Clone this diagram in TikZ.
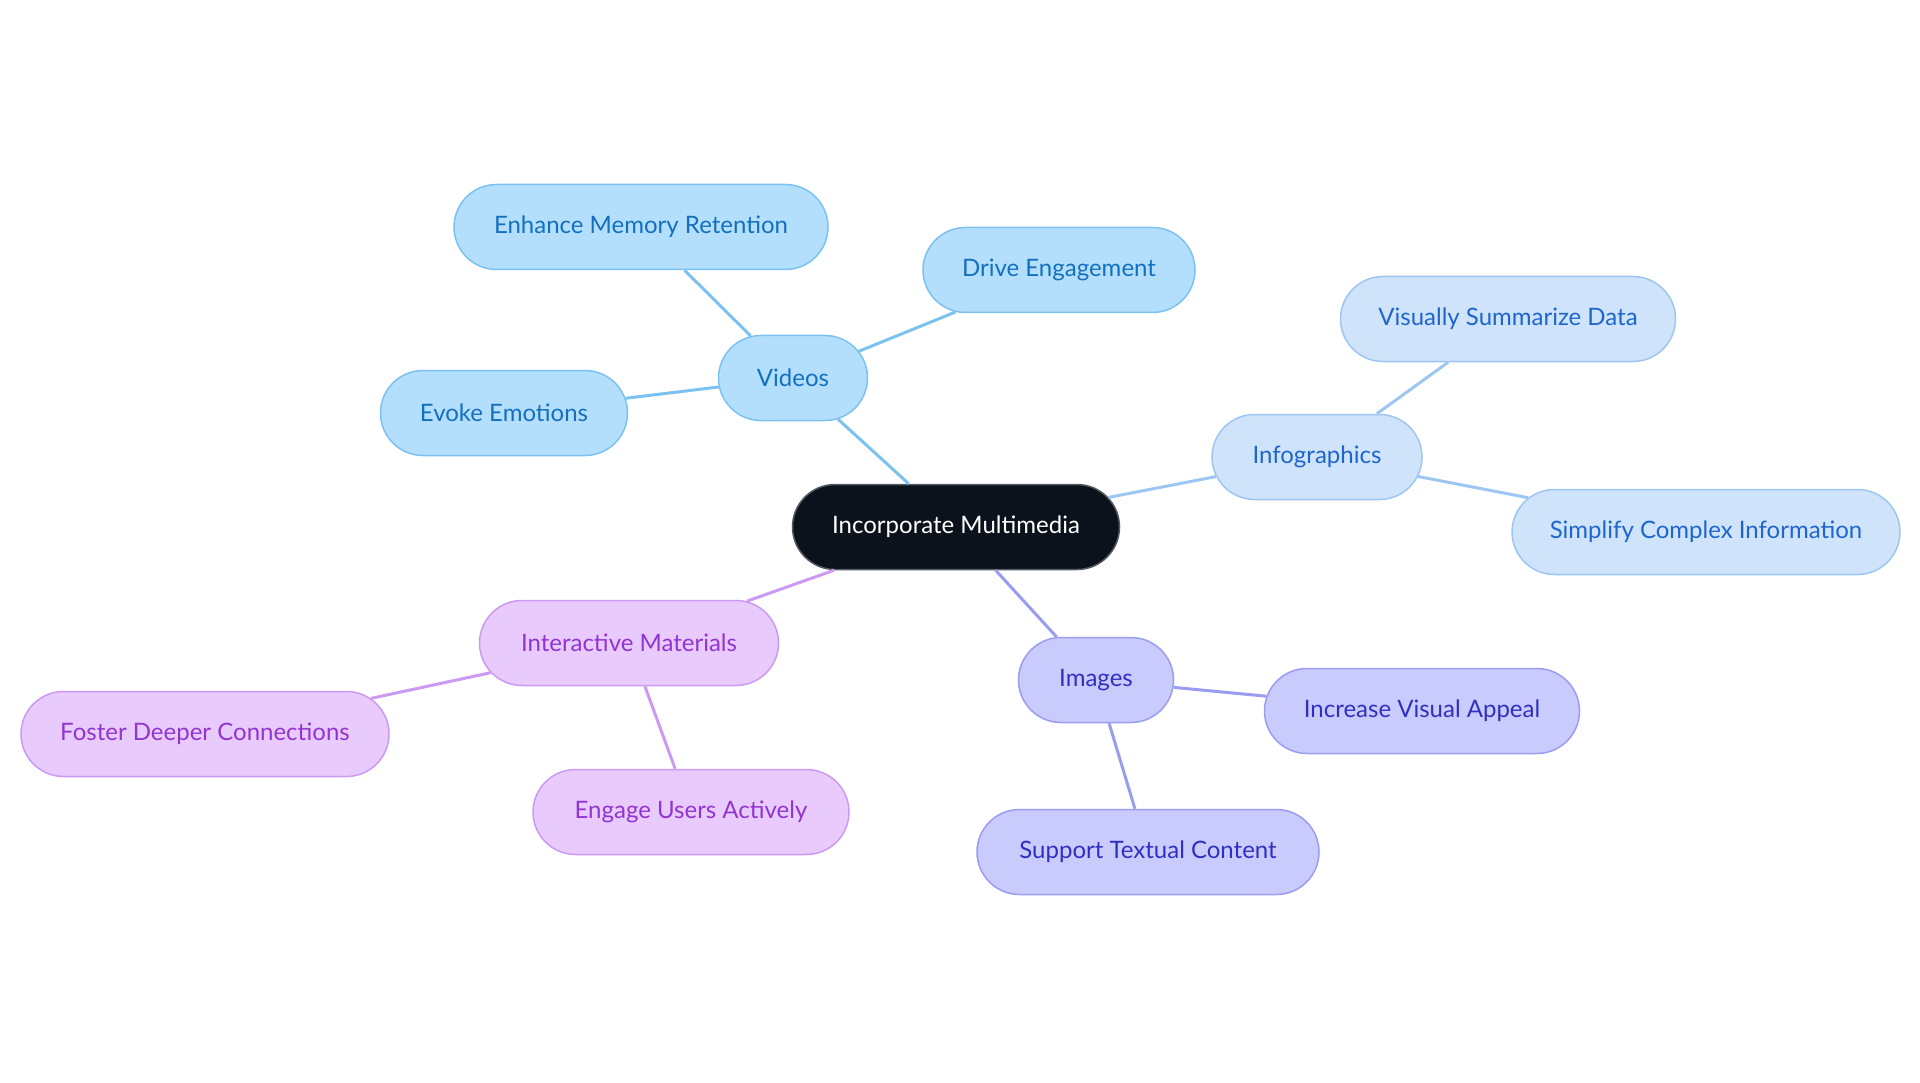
\documentclass[tikz,border=0pt]{standalone}
\usepackage{fontspec}
\setmainfont{Lato}
\usetikzlibrary{shapes.misc}

\definecolor{vidFill}{HTML}{B3DFFD}
\definecolor{vidDraw}{HTML}{7CC2F0}
\definecolor{vidText}{HTML}{1470BE}
\definecolor{infFill}{HTML}{CFE3FB}
\definecolor{infDraw}{HTML}{9DC6F2}
\definecolor{infText}{HTML}{1F66CC}
\definecolor{imgFill}{HTML}{C9CBFD}
\definecolor{imgDraw}{HTML}{9A9CF2}
\definecolor{imgText}{HTML}{2F30C0}
\definecolor{actFill}{HTML}{E8CAFD}
\definecolor{actDraw}{HTML}{CC9AF2}
\definecolor{actText}{HTML}{9234D0}
\definecolor{rootFill}{HTML}{0C121B}
\definecolor{rootDraw}{HTML}{555B63}

\tikzset{
	pill/.style={rounded rectangle, minimum height=85pt, line width=1.5pt,
		font=\fontsize{24}{28}\selectfont, inner xsep=0pt, minimum width=#1},
	vid/.style={pill=#1, fill=vidFill, draw=vidDraw, text=vidText},
	inf/.style={pill=#1, fill=infFill, draw=infDraw, text=infText},
	img/.style={pill=#1, fill=imgFill, draw=imgDraw, text=imgText},
	act/.style={pill=#1, fill=actFill, draw=actDraw, text=actText},
	rootbox/.style={pill=#1, fill=rootFill, draw=rootDraw, text=white},
	link/.style={line width=3pt}
}

\begin{document}
\begin{tikzpicture}[x=1pt, y=-1pt]
\useasboundingbox (0,0) rectangle (1920,1083);

\path (956,527) node[rootbox=327pt] (root) {Incorporate Multimedia};

\path (793,378) node[vid=149pt] (videos) {Videos};
\path (641,227) node[vid=374pt] (memory) {Enhance Memory Retention};
\path (1059,270) node[vid=272pt] (drive) {Drive Engagement};
\path (504,413) node[vid=247pt] (evoke) {Evoke Emotions};

\path (1317,457) node[inf=210pt] (infog) {Infographics};
\path (1508,319) node[inf=335pt] (summ) {Visually Summarize Data};
\path (1706,532) node[inf=388pt] (simpl) {Simplify Complex Information};

\path (1096,680) node[img=155pt] (images) {Images};
\path (1422,711) node[img=315pt] (appeal) {Increase Visual Appeal};
\path (1148,852) node[img=342pt] (textual) {Support Textual Content};

\path (629,643) node[act=299pt] (inter) {Interactive Materials};
\path (205,734) node[act=368pt] (foster) {Foster Deeper Connections};
\path (691,812) node[act=316pt] (engage) {Engage Users Actively};

\draw [link, vidDraw] (root) -- (videos);
\draw [link, vidDraw] (videos) -- (memory);
\draw [link, vidDraw] (videos) -- (drive);
\draw [link, vidDraw] (videos) -- (evoke);

\draw [link, infDraw] (root) -- (infog);
\draw [link, infDraw] (infog) -- (summ);
\draw [link, infDraw] (infog) -- (simpl);

\draw [link, imgDraw] (root) -- (images);
\draw [link, imgDraw] (images) -- (appeal);
\draw [link, imgDraw] (images) -- (textual);

\draw [link, actDraw] (root) -- (inter);
\draw [link, actDraw] (inter) -- (foster);
\draw [link, actDraw] (inter) -- (engage);

\end{tikzpicture}
\end{document}
